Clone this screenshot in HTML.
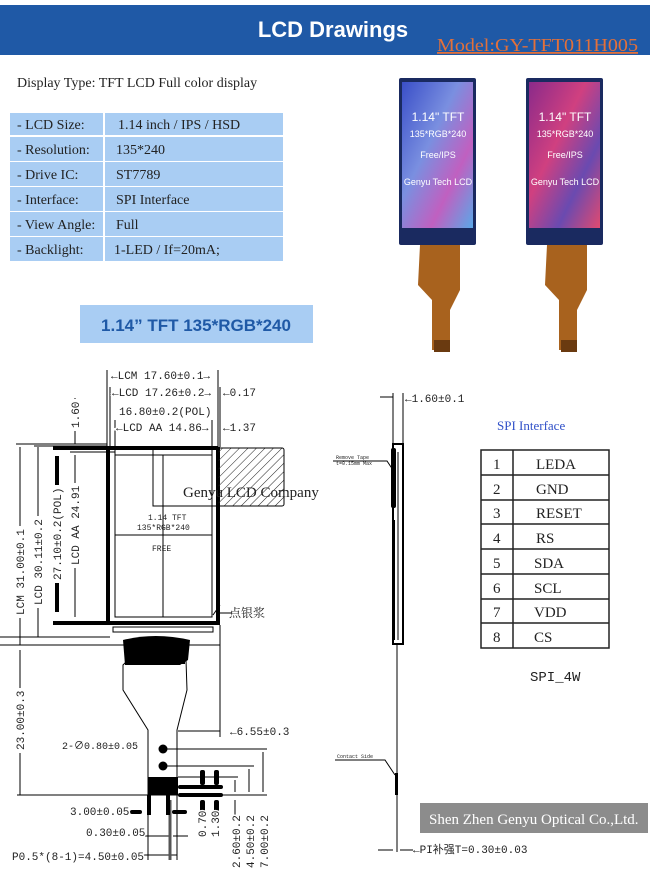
<!DOCTYPE html>
<html><head><meta charset="utf-8"><style>
html,body{margin:0;padding:0;background:#fff;}
svg{display:block}
.s{font-family:"Liberation Serif","Noto Serif CJK SC",serif;}
.m{font-family:"Liberation Mono","Noto Sans CJK SC",monospace;}
.w text{stroke:#fff;stroke-width:3px;paint-order:stroke;}
</style></head><body>
<svg width="650" height="894" viewBox="0 0 650 894" xmlns="http://www.w3.org/2000/svg">
<defs>
<pattern id="h" width="6" height="6" patternUnits="userSpaceOnUse" patternTransform="rotate(45)">
<line x1="0" y1="0" x2="0" y2="6" stroke="#222" stroke-width="1"/></pattern>
<linearGradient id="g1" x1="0" y1="0" x2="1" y2="1"><stop offset="0" stop-color="#3a4fc8"/><stop offset=".4" stop-color="#7a8fe0"/><stop offset=".7" stop-color="#c060c0"/><stop offset="1" stop-color="#5aa8e8"/></linearGradient>
<linearGradient id="g2" x1="0" y1="0" x2="1" y2="1"><stop offset="0" stop-color="#8a2a8a"/><stop offset=".4" stop-color="#d04080"/><stop offset=".7" stop-color="#6a4ab0"/><stop offset="1" stop-color="#e04a70"/></linearGradient>
</defs>
<rect x="0" y="5" width="650" height="50" fill="#1f59a6"/>
<text x="333" y="37" text-anchor="middle" font-family="Liberation Sans,sans-serif" font-weight="bold" font-size="22" fill="#fff">LCD Drawings</text>
<text x="437" y="51" class="s" font-size="18" fill="#e2703a" textLength="201" lengthAdjust="spacingAndGlyphs" text-decoration="underline">Model:GY-TFT011H005</text>
<text x="17" y="87" class="s" font-size="14" fill="#222">Display Type: TFT LCD Full color display</text>
<g class="s" font-size="14" fill="#222">
<g fill="#a9cdf3">
<rect x="10" y="113" width="273" height="22"/><rect x="10" y="137" width="273" height="24"/>
<rect x="10" y="162" width="273" height="24"/><rect x="10" y="187" width="273" height="24"/>
<rect x="10" y="212" width="273" height="24"/><rect x="10" y="237" width="273" height="24"/>
</g>
<rect x="103" y="112" width="2" height="150" fill="#fff"/>
<text x="17" y="129">- LCD Size:</text><text x="118" y="129">1.14 inch  / IPS / HSD</text>
<text x="17" y="154">- Resolution:</text><text x="116" y="154">135*240</text>
<text x="17" y="179">- Drive IC:</text><text x="116" y="179">ST7789</text>
<text x="17" y="204">- Interface:</text><text x="116" y="204">SPI Interface</text>
<text x="17" y="229">- View Angle:</text><text x="116" y="229">Full</text>
<text x="17" y="254">- Backlight:</text><text x="114" y="254">1-LED / If=20mA;</text>
</g>
<g>
<rect x="399" y="78" width="77" height="167" rx="2" fill="#1a2a60"/>
<rect x="402" y="82" width="71" height="146" fill="url(#g1)"/>
<path d="M420 245 H460 V290 L450 310 V350 H432 V300 L418 285 Z" fill="#a8621e"/>
<rect x="434" y="340" width="16" height="12" fill="#6a3a10"/>
<rect x="526" y="78" width="77" height="167" rx="2" fill="#1a2a60"/>
<rect x="529" y="82" width="71" height="146" fill="url(#g2)"/>
<path d="M547 245 H587 V290 L577 310 V350 H559 V300 L545 285 Z" fill="#a8621e"/>
<rect x="561" y="340" width="16" height="12" fill="#6a3a10"/>
<g font-family="Liberation Sans,sans-serif" fill="#fff" text-anchor="middle">
<text x="438" y="121" font-size="12">1.14" TFT</text><text x="438" y="137" font-size="9">135*RGB*240</text>
<text x="438" y="158" font-size="9">Free/IPS</text><text x="438" y="185" font-size="9">Genyu Tech LCD</text>
<text x="565" y="121" font-size="12">1.14" TFT</text><text x="565" y="137" font-size="9">135*RGB*240</text>
<text x="565" y="158" font-size="9">Free/IPS</text><text x="565" y="185" font-size="9">Genyu Tech LCD</text>
</g></g>
<rect x="80" y="305" width="233" height="38" fill="#a9cdf3"/>
<text x="196" y="331" text-anchor="middle" font-family="Liberation Sans,sans-serif" font-weight="bold" font-size="17" fill="#1f59a6">1.14” TFT 135*RGB*240</text>

<g stroke="#000" fill="none">
<line x1="107" y1="370" x2="107" y2="447"/>
<line x1="218" y1="370" x2="218" y2="447"/>
<line x1="110" y1="387" x2="110" y2="447"/>
<line x1="220" y1="387" x2="220" y2="447"/>
<line x1="115" y1="420" x2="115" y2="455"/>
<line x1="212" y1="420" x2="212" y2="455"/>
<line x1="16" y1="444" x2="107" y2="444"/>
<line x1="34" y1="446" x2="107" y2="446"/>
<line x1="70" y1="452" x2="115" y2="452"/>
<line x1="108" y1="447" x2="108" y2="625" stroke-width="4"/>
<line x1="218" y1="447" x2="218" y2="625" stroke-width="4"/>
<line x1="53" y1="448" x2="218" y2="448" stroke-width="4"/>
<line x1="53" y1="623" x2="218" y2="623" stroke-width="4"/>
<rect x="115" y="455" width="97" height="162"/>
<line x1="115" y1="535" x2="212" y2="535"/>
<line x1="163" y1="455" x2="163" y2="617"/>
<polyline points="153,450 153,506 218,506"/>
<rect x="218" y="448" width="66" height="58" fill="url(#h)" rx="2"/>
<line x1="57" y1="456" x2="57" y2="612" stroke-width="4"/>
<line x1="20" y1="447" x2="20" y2="645"/>
<line x1="38" y1="447" x2="38" y2="637"/>
<line x1="75" y1="455" x2="75" y2="617"/>
<line x1="75" y1="398" x2="75" y2="444"/>
<line x1="0" y1="645" x2="220" y2="645"/>
<line x1="0" y1="637" x2="110" y2="637"/>
<rect x="113" y="627" width="100" height="5"/>
<line x1="220" y1="625" x2="220" y2="737"/>
<path d="M213 615 L220 605" />
<line x1="220" y1="613" x2="232" y2="613"/>
<line x1="20" y1="650" x2="20" y2="795"/>
<polyline points="128,660 123,665 123,690 148,730 148,795"/>
<polyline points="186,660 187,690 177,730 177,860"/>
<line x1="148" y1="795" x2="148" y2="860"/>
<line x1="178" y1="731" x2="220" y2="731"/>
<line x1="17" y1="795" x2="267" y2="795"/>
<line x1="163" y1="749" x2="267" y2="749"/>
<line x1="163" y1="766" x2="254" y2="766"/>
<line x1="178" y1="777" x2="238" y2="777"/>
<line x1="263" y1="752" x2="263" y2="792"/>
<line x1="249" y1="769" x2="249" y2="792"/>
<line x1="235" y1="780" x2="235" y2="792"/>
<line x1="235" y1="800" x2="235" y2="818"/>
<line x1="148" y1="855" x2="177" y2="855"/>
<line x1="132" y1="855" x2="148" y2="855"/>
<line x1="145" y1="836" x2="170" y2="836"/>
<line x1="173" y1="836" x2="188" y2="836"/>
<line x1="170" y1="800" x2="170" y2="860" stroke-width="3" stroke="#555"/>
</g>
<!-- gaps for rotated labels -->
<g fill="#fff">
<rect x="13" y="526" width="14" height="92"/>
<rect x="31" y="516" width="14" height="92"/>
<rect x="50" y="485" width="14" height="98"/>
<rect x="68" y="483" width="14" height="85"/>
<rect x="13" y="688" width="14" height="65"/>
<rect x="68" y="399" width="14" height="32"/>
</g>
<g fill="#000">
<path d="M123 640 Q155 632 190 640 L188 660 L180 665 L125 665 Z"/>
<rect x="130" y="650" width="55" height="14"/>
<circle cx="163" cy="749" r="4.5"/><circle cx="163" cy="766" r="4.5"/>
<rect x="148" y="777" width="30" height="18"/>
<rect x="178" y="785" width="45" height="4" rx="2"/>
<rect x="178" y="793" width="45" height="4" rx="2"/>
<rect x="200" y="770" width="5" height="15" rx="2"/>
<rect x="214" y="770" width="5" height="15" rx="2"/>
<rect x="200" y="800" width="5" height="15" rx="2"/>
<rect x="214" y="800" width="5" height="15" rx="2"/>
<rect x="147" y="795" width="4" height="20"/>
<rect x="166" y="795" width="4" height="20"/>
<rect x="130" y="810" width="12" height="4" rx="2"/>
<rect x="172" y="810" width="15" height="4" rx="2"/>
</g>
<g class="m" font-size="11" fill="#222">
<g class="w">
<text x="111" y="379">←LCM 17.60±0.1→</text>
<text x="112" y="396">←LCD 17.26±0.2→</text>
<text x="223" y="396">←0.17</text>
<text x="119" y="415">16.80±0.2(POL)</text>
<text x="116" y="431">←LCD AA 14.86→</text>
<text x="223" y="431">←1.37</text>
<text x="230" y="735">←6.55±0.3</text>
<text x="62" y="749" font-size="10">2-∅0.80±0.05</text>
<text x="70" y="815">3.00±0.05</text>
<text x="86" y="836">0.30±0.05</text>
<text x="12" y="860">P0.5*(8-1)=4.50±0.05</text>
</g>
<text transform="translate(79,428) rotate(-90)">1.60</text>
<text transform="translate(24,615) rotate(-90)">LCM 31.00±0.1</text>
<text transform="translate(42,605) rotate(-90)">LCD 30.11±0.2</text>
<text transform="translate(61,580) rotate(-90)">27.10±0.2(POL)</text>
<text transform="translate(79,565) rotate(-90)">LCD AA 24.91</text>
<text transform="translate(24,750) rotate(-90)">23.00±0.3</text>
<g class="w">
<text transform="translate(206,837) rotate(-90)">0.70</text>
<text transform="translate(219,837) rotate(-90)">1.30</text>
<text transform="translate(240,868) rotate(-90)">2.60±0.2</text>
<text transform="translate(254,868) rotate(-90)">4.50±0.2</text>
<text transform="translate(268,868) rotate(-90)">7.00±0.2</text>
</g>
<text x="148" y="520" font-size="8">1.14 TFT</text>
<text x="137" y="530" font-size="8">135*RGB*240</text>
<text x="152" y="551" font-size="8">FREE</text>
</g>
<text x="183" y="497" class="s" font-size="15" fill="#222">Genyu LCD Company</text>
<text x="229" y="617" class="s" font-size="12" fill="#222">点银浆</text>

<g stroke="#000" fill="none">
<line x1="393" y1="393" x2="393" y2="445"/>
<line x1="403" y1="393" x2="403" y2="445"/>
<line x1="380" y1="397" x2="393" y2="397"/>
<rect x="393" y="444" width="10" height="200" stroke-width="2"/>
<line x1="398" y1="452" x2="398" y2="640"/>
<line x1="397" y1="644" x2="397" y2="852"/>
<polyline points="333,461 387,461 393,470"/>
<polyline points="335,760 385,760 395,775"/>
<line x1="378" y1="850" x2="393" y2="850"/>
<line x1="400" y1="850" x2="413" y2="850"/>
</g>
<rect x="391" y="448" width="5" height="60" rx="2" fill="#000"/>
<rect x="392" y="520" width="3" height="120" fill="#000"/>
<rect x="395" y="773" width="3" height="22" fill="#000"/>
<g class="m" fill="#222">
<text x="405" y="402" font-size="11">←1.60±0.1</text>
<text x="336" y="459" font-size="5">Remove Tape</text>
<text x="336" y="465" font-size="5">t=0.15mm Max</text>
<text x="337" y="758" font-size="5">Contact Side</text>
<text x="413" y="853" font-size="11">←PI补强T=0.30±0.03</text>
</g>
<text x="497" y="430" class="s" font-size="13" fill="#3050c8">SPI Interface</text>
<g stroke="#222" stroke-width="1.5" fill="none">
<rect x="481" y="450" width="128" height="198"/>
<line x1="513" y1="450" x2="513" y2="648"/>
<line x1="481" y1="475" x2="609" y2="475"/><line x1="481" y1="500" x2="609" y2="500"/>
<line x1="481" y1="524" x2="609" y2="524"/><line x1="481" y1="549" x2="609" y2="549"/>
<line x1="481" y1="574" x2="609" y2="574"/><line x1="481" y1="599" x2="609" y2="599"/>
<line x1="481" y1="623" x2="609" y2="623"/>
</g>
<g class="s" font-size="15" fill="#222">
<text x="493" y="469">1</text><text x="536" y="469">LEDA</text>
<text x="493" y="494">2</text><text x="536" y="494">GND</text>
<text x="493" y="518">3</text><text x="536" y="518">RESET</text>
<text x="493" y="543">4</text><text x="536" y="543">RS</text>
<text x="493" y="568">5</text><text x="534" y="568">SDA</text>
<text x="493" y="593">6</text><text x="534" y="593">SCL</text>
<text x="493" y="617">7</text><text x="534" y="617">VDD</text>
<text x="493" y="642">8</text><text x="534" y="642">CS</text>
</g>
<text x="530" y="681" class="m" font-size="14" fill="#222">SPI_4W</text>
<rect x="420" y="803" width="228" height="30" fill="#8c8c8c"/>
<text x="429" y="824" class="s" font-size="15" fill="#fff">Shen Zhen Genyu Optical Co.,Ltd.</text>
</svg>
</body></html>
